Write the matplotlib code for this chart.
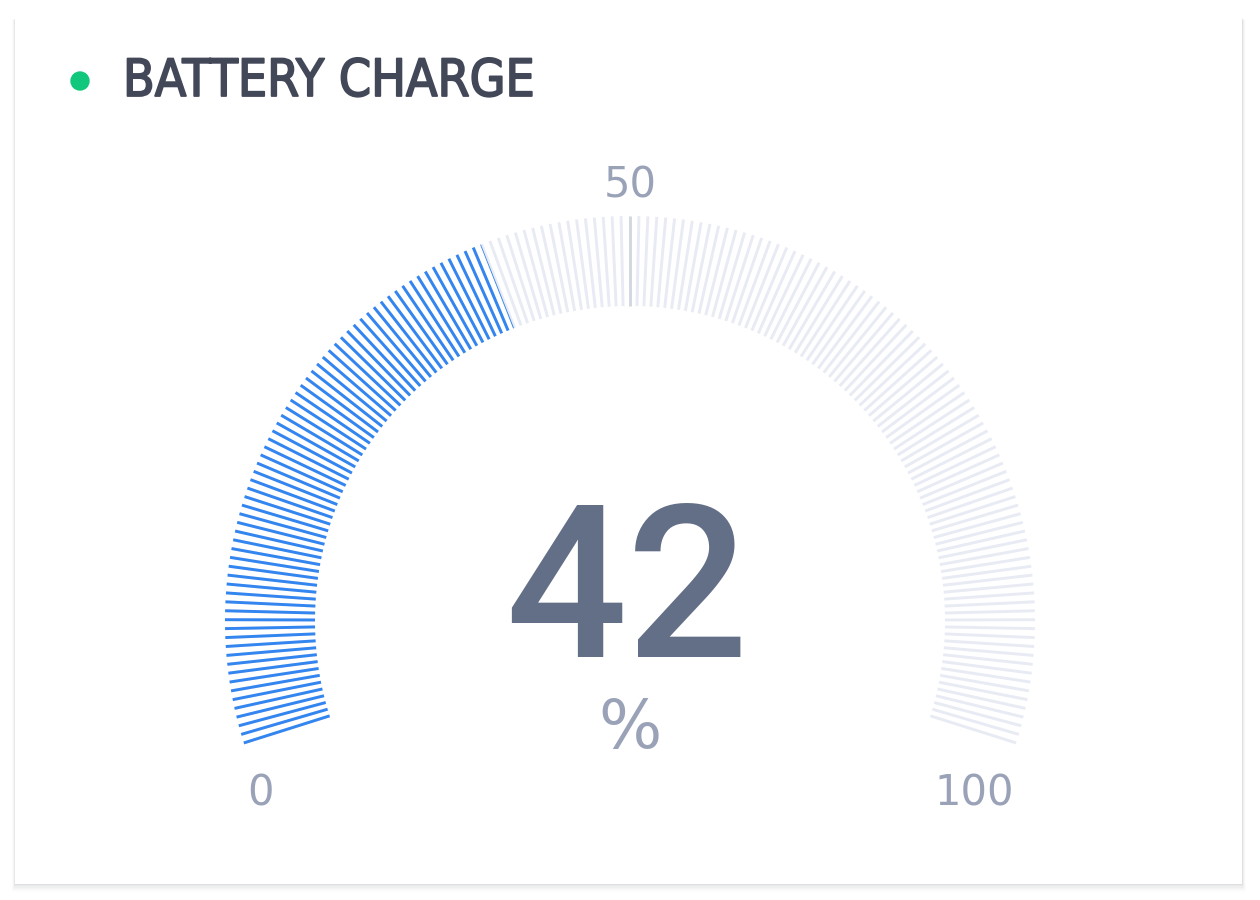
import numpy as np
import matplotlib
matplotlib.use("Agg")
import matplotlib.pyplot as plt
import matplotlib.patheffects as pe
from matplotlib.collections import LineCollection
from matplotlib.patches import Wedge, Rectangle, Circle

# data
title = "BATTERY CHARGE"
charge = 42            # number shown in the middle
arc_level = 40         # where the blue fill of the arc stops
scale_min, scale_max = 0, 100
scale_labels = ["0", "50", "100"]
unit = "%"

W, H = 1260, 900
fig = plt.figure(figsize=(W / 100, H / 100), dpi=100)
ax = fig.add_axes([0, 0, 1, 1])
ax.set_xlim(0, W)
ax.set_ylim(0, H)
ax.axis("off")

# card + soft shadow (heavier below)
for i, a in enumerate([0.05, 0.04, 0.03, 0.022, 0.015, 0.01, 0.006]):
    d = i + 1
    ax.add_patch(Rectangle((15 - d * 0.5, H - 884 - d * 1.2), 1227 + d, 866 + d * 0.9,
                           facecolor="#5a6070", alpha=a, edgecolor="none", zorder=0))
ax.add_patch(Rectangle((15, H - 884), 1227, 866, facecolor="white", edgecolor="none", zorder=1))

# header
ax.add_patch(Circle((80, H - 81), 9, color="#10c77b", zorder=3))
ax.text(123, H - 96, title, fontsize=37, color="#434859",
        family=["DejaVu Sans"], fontstretch="condensed", fontweight="normal",
        ha="left", va="baseline", zorder=3,
        path_effects=[pe.withStroke(linewidth=1.3, foreground="#434859")])

# gauge
cx, cy = 630, H - 621
r_in, r_out = 315, 405
a_start, a_end = 198.0, -18.0
step = 1.265
angles = 90 + step * np.arange(-85, 86)


def val2ang(v):
    return a_start + (v - scale_min) / (scale_max - scale_min) * (a_end - a_start)


rad = np.deg2rad(angles)
segs = [[(cx + r_in * np.cos(t), cy + r_in * np.sin(t)),
         (cx + r_out * np.cos(t), cy + r_out * np.sin(t))] for t in rad]
cols = ["#d3d7e0" if abs(a - 90) < 1e-6 else "#e8ebf3" for a in angles]
ax.add_collection(LineCollection(segs, colors=cols, linewidths=2.1,
                                 capstyle="butt", zorder=2))

blue = LineCollection(segs, colors="#3385f0", linewidths=2.1, capstyle="butt", zorder=3)
ax.add_collection(blue)
clip = Wedge((cx, cy), r_out + 20, val2ang(arc_level), a_start + 5,
             transform=ax.transData, facecolor="none", edgecolor="none")
ax.add_patch(clip)
blue.set_clip_path(clip)

# scale labels
lab_font = ["DejaVu Sans"]
ax.text(260, H - 805, scale_labels[0], fontsize=30, color="#9aa2b8",
        family=lab_font, ha="center", va="baseline", zorder=3)
ax.text(630, H - 198, scale_labels[1], fontsize=30, color="#9aa2b8",
        family=lab_font, ha="center", va="baseline", zorder=3)
ax.text(974, H - 805, scale_labels[2], fontsize=30, color="#9aa2b8",
        family=lab_font, ha="center", va="baseline", zorder=3)

# value
ax.text(627, H - 657, str(charge), fontsize=154, color="#636e87",
        family=["Roboto", "DejaVu Sans"], fontweight="medium",
        ha="center", va="baseline", zorder=3)
ax.text(630, H - 748, unit, fontsize=48, color="#9aa2b8",
        family=lab_font, ha="center", va="baseline", zorder=3)

fig.savefig("out.png", dpi=100, facecolor="white")
